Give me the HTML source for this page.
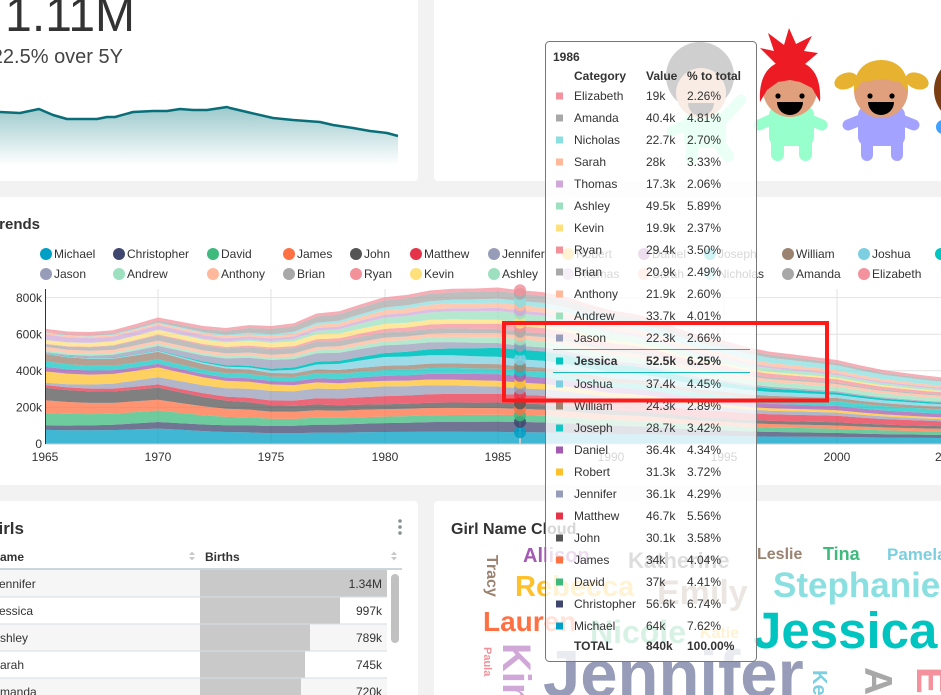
<!DOCTYPE html>
<html><head><meta charset="utf-8">
<style>
html,body{margin:0;padding:0;background:#f2f2f2;width:941px;height:695px;overflow:hidden}
svg{display:block;font-family:"Liberation Sans",Arial,sans-serif;overflow:hidden}
</style></head><body>
<svg id="s" width="941" height="695" viewBox="0 0 941 695" xmlns="http://www.w3.org/2000/svg">
<defs>
<linearGradient id="g1" x1="0" y1="105" x2="0" y2="165" gradientUnits="userSpaceOnUse">
<stop offset="0" stop-color="#0a7a82" stop-opacity=".42"/>
<stop offset="1" stop-color="#0a7a82" stop-opacity="0"/>
</linearGradient>
<clipPath id="cp"><rect x="0" y="0" width="941" height="695"/></clipPath>
</defs>
<g clip-path="url(#cp)">
<rect width="941" height="695" fill="#f2f2f2"/>
<!-- panels -->
<rect x="-10" y="-10" width="428" height="191" rx="4" fill="#fff"/>
<rect x="434" y="-10" width="520" height="191" rx="4" fill="#fff"/>
<rect x="-10" y="197" width="960" height="288" rx="4" fill="#fff"/>
<rect x="-10" y="501" width="428" height="210" rx="4" fill="#fff"/>
<rect x="434" y="501" width="520" height="210" rx="4" fill="#fff"/>

<!-- KPI -->
<text x="135" y="31" text-anchor="end" font-size="48" fill="#333">1.11M</text>
<text x="123" y="63" text-anchor="end" font-size="20" fill="#444">22.5% over 5Y</text>
<path d="M0,112 L20,113 L39,109 L53,115 L67,119 L80,119 L97,119 L107,117 L115,117 L133,112 L153,111 L167,111 L180,109 L193,110 L207,110 L227,107 L230,108 L247,112 L273,118 L293,120 L320,122 L333,125 L353,128 L370,131 L387,133 L398,136 L398,165 L0,165 Z" fill="url(#g1)"/>
<path d="M0,112 L20,113 L39,109 L53,115 L67,119 L80,119 L97,119 L107,117 L115,117 L133,112 L153,111 L167,111 L180,109 L193,110 L207,110 L227,107 L230,108 L247,112 L273,118 L293,120 L320,122 L333,125 L353,128 L370,131 L387,133 L398,136" fill="none" stroke="#0a6e78" stroke-width="2.5" stroke-linejoin="round"/>

<!-- kids -->
<g>
<path d="M720,122 L741,100 M688,124 L672,131" stroke="#96ffcc" stroke-width="11" stroke-linecap="round"/>
<path d="M694,140 L691,158 M716,140 L728,156" stroke="#96ffcc" stroke-width="12" stroke-linecap="round"/>
<rect x="684" y="112" width="42" height="36" rx="9" fill="#96ffcc"/>
<circle cx="700" cy="76" r="34" fill="#111"/>
<circle cx="701" cy="93" r="25" fill="#e0a07e"/>
<path d="M688,103 L714,103 A13,13 0 0 1 688,103Z" fill="#000"/>
</g>
<g>
<path d="M777,117 L759,125 M803,117 L822,125" stroke="#96ffcc" stroke-width="11" stroke-linecap="round"/>
<rect x="771" y="132" width="13" height="29" rx="6.5" fill="#96ffcc"/>
<rect x="799" y="132" width="13" height="29" rx="6.5" fill="#96ffcc"/>
<rect x="769" y="106" width="45" height="40" rx="9" fill="#96ffcc"/>
<circle cx="790" cy="90" r="27" fill="#e0a07e"/>
<path d="M760,102 C758,70 775,60 790,61 C806,60 822,70 820,102 L812,88 L800,82 L790,80 L778,82 L767,90 Z" fill="#ed1c24"/>
<path d="M776,64 L760,48 L774,51 L768,33 L784,45 L789,28 L796,44 L812,36 L804,51 L818,53 L805,64 Z" fill="#ed1c24"/>
<circle cx="778" cy="96" r="2.6" fill="#000"/>
<circle cx="802" cy="96" r="2.6" fill="#000"/>
<path d="M777,102 L803,102 A13,13 0 0 1 777,102 Z" fill="#000"/>
</g>
<g>
<path d="M868,117 L848,125 M894,117 L914,125" stroke="#a3a3ff" stroke-width="11" stroke-linecap="round"/>
<rect x="861" y="132" width="12" height="29" rx="6" fill="#a3a3ff"/>
<rect x="891" y="132" width="12" height="29" rx="6" fill="#a3a3ff"/>
<rect x="858" y="106" width="47" height="40" rx="9" fill="#a3a3ff"/>
<circle cx="881" cy="91" r="27" fill="#e0a07e"/>
<path d="M854,92 C853,68 868,60 881,60 C895,60 909,68 908,92 L900,82 L882,79 L862,82 Z" fill="#e6b22f"/>
<ellipse cx="846" cy="81" rx="12" ry="8" fill="#e6b22f" transform="rotate(-20 846 81)"/>
<ellipse cx="917" cy="81" rx="12" ry="8" fill="#e6b22f" transform="rotate(20 917 81)"/>
<circle cx="870" cy="96" r="2.6" fill="#000"/>
<circle cx="892" cy="96" r="2.6" fill="#000"/>
<path d="M868,102 L894,102 A13,13 0 0 1 868,102 Z" fill="#000"/>
</g>
<circle cx="968" cy="90" r="34" fill="#7a3e12"/>
<circle cx="943" cy="127" r="7" fill="#3fa2ff"/>

<!-- chart title -->
<text x="40" y="229" text-anchor="end" font-size="15" font-weight="bold" fill="#333">Trends</text>

<!-- legend -->
<g font-size="12" fill="#333">
<circle cx="46" cy="254" r="6" fill="#00a0c6"/><text x="54" y="258">Michael</text>
<circle cx="119" cy="254" r="6" fill="#3f476f"/><text x="127" y="258">Christopher</text>
<circle cx="213" cy="254" r="6" fill="#3dba7c"/><text x="221" y="258">David</text>
<circle cx="289" cy="254" r="6" fill="#ff7043"/><text x="297" y="258">James</text>
<circle cx="356" cy="254" r="6" fill="#555555"/><text x="364" y="258">John</text>
<circle cx="416" cy="254" r="6" fill="#e5344a"/><text x="424" y="258">Matthew</text>
<circle cx="494" cy="254" r="6" fill="#979db8"/><text x="502" y="258">Jennifer</text>
<circle cx="568" cy="254" r="6" fill="#ffc12b"/><text x="576" y="258">Robert</text>
<circle cx="644" cy="254" r="6" fill="#a25bb0"/><text x="652" y="258">Daniel</text>
<circle cx="710" cy="254" r="6" fill="#11c7c4"/><text x="718" y="258">Joseph</text>
<circle cx="788" cy="254" r="6" fill="#9c8270"/><text x="796" y="258">William</text>
<circle cx="864" cy="254" r="6" fill="#7ccfe0"/><text x="872" y="258">Joshua</text>
<circle cx="941" cy="254" r="6" fill="#00c4c0"/>
<circle cx="46" cy="274" r="6" fill="#979db8"/><text x="54" y="278">Jason</text>
<circle cx="119" cy="274" r="6" fill="#9de0c0"/><text x="127" y="278">Andrew</text>
<circle cx="213" cy="274" r="6" fill="#ffb899"/><text x="221" y="278">Anthony</text>
<circle cx="289" cy="274" r="6" fill="#a8a8a8"/><text x="297" y="278">Brian</text>
<circle cx="356" cy="274" r="6" fill="#f3919a"/><text x="364" y="278">Ryan</text>
<circle cx="416" cy="274" r="6" fill="#ffe07a"/><text x="424" y="278">Kevin</text>
<circle cx="494" cy="274" r="6" fill="#9de0c0"/><text x="502" y="278">Ashley</text>
<circle cx="568" cy="274" r="6" fill="#d0a8d8"/><text x="576" y="278">Thomas</text>
<circle cx="644" cy="274" r="6" fill="#ffb899"/><text x="652" y="278">Sarah</text>
<circle cx="710" cy="274" r="6" fill="#8adfe0"/><text x="718" y="278">Nicholas</text>
<circle cx="788" cy="274" r="6" fill="#a8a8a8"/><text x="796" y="278">Amanda</text>
<circle cx="864" cy="274" r="6" fill="#f3929c"/><text x="872" y="278">Elizabeth</text>
</g>

<!-- grid -->
<g stroke="#e2e2e2" stroke-width="1">
<line x1="158" y1="289" x2="158" y2="444"/><line x1="271" y1="289" x2="271" y2="444"/>
<line x1="385" y1="289" x2="385" y2="444"/><line x1="498" y1="289" x2="498" y2="444"/>
<line x1="611" y1="289" x2="611" y2="444"/><line x1="724" y1="289" x2="724" y2="444"/>
<line x1="837" y1="289" x2="837" y2="444"/>
<line x1="45" y1="297.6" x2="941" y2="297.6"/><line x1="45" y1="334.2" x2="941" y2="334.2"/>
<line x1="45" y1="370.8" x2="941" y2="370.8"/><line x1="45" y1="407.4" x2="941" y2="407.4"/>
</g>
<g id="areas"></g>
<line x1="45" y1="444" x2="941" y2="444" stroke="#ccc"/>
<line x1="45.5" y1="289" x2="45.5" y2="444" stroke="#333"/>
<line x1="520" y1="289" x2="520" y2="444" stroke="#c8c8c8" stroke-width="2"/>
<g id="dots"></g>
<g font-size="12" fill="#333">
<text x="42" y="302" text-anchor="end">800k</text>
<text x="42" y="338.5" text-anchor="end">600k</text>
<text x="42" y="375" text-anchor="end">400k</text>
<text x="42" y="411.5" text-anchor="end">200k</text>
<text x="42" y="448" text-anchor="end">0</text>
<text x="45" y="461" text-anchor="middle">1965</text>
<text x="158" y="461" text-anchor="middle">1970</text>
<text x="271" y="461" text-anchor="middle">1975</text>
<text x="385" y="461" text-anchor="middle">1980</text>
<text x="498" y="461" text-anchor="middle">1985</text>
<text x="611" y="461" text-anchor="middle">1990</text>
<text x="724" y="461" text-anchor="middle">1995</text>
<text x="837" y="461" text-anchor="middle">2000</text>
<text x="935" y="461">2</text>
</g>

<!-- table -->
<text x="24" y="534" text-anchor="end" font-size="17" font-weight="bold" fill="#333">Girls</text>
<circle cx="400" cy="521" r="1.8" fill="#8a8f94"/><circle cx="400" cy="527" r="1.8" fill="#8a8f94"/><circle cx="400" cy="533" r="1.8" fill="#8a8f94"/>
<text x="24" y="561" text-anchor="end" font-size="12" font-weight="bold" fill="#333">Name</text>
<text x="205" y="561" font-size="12" font-weight="bold" fill="#333">Births</text>
<path d="M189,555 L195,555 L192,551.5Z M189,557 L195,557 L192,560.5Z M391,555 L397,555 L394,551.5Z M391,557 L397,557 L394,560.5Z" fill="#c8c8c8"/>
<rect x="0" y="568" width="402" height="2" fill="#ccd6dd"/>
<rect x="0" y="570" width="387" height="27" fill="#f6f6f6"/>
<rect x="0" y="624" width="387" height="27" fill="#f6f6f6"/>
<rect x="0" y="678" width="387" height="17" fill="#f6f6f6"/>
<g fill="#c9c9c9">
<rect x="200" y="570" width="187" height="27"/>
<rect x="200" y="597" width="140" height="27"/>
<rect x="200" y="624" width="110" height="27"/>
<rect x="200" y="651" width="105" height="27"/>
<rect x="200" y="678" width="101" height="17"/>
</g>
<g fill="#d7dee3">
<rect x="0" y="596.5" width="387" height="1"/>
<rect x="0" y="623.5" width="387" height="1"/>
<rect x="0" y="650.5" width="387" height="1"/>
<rect x="0" y="677.5" width="387" height="1"/>
</g>
<g font-size="12" fill="#333">
<text x="-7" y="588">Jennifer</text><text x="382" y="588" text-anchor="end">1.34M</text>
<text x="-7" y="615">Jessica</text><text x="382" y="615" text-anchor="end">997k</text>
<text x="-8" y="642">Ashley</text><text x="382" y="642" text-anchor="end">789k</text>
<text x="-8" y="669">Sarah</text><text x="382" y="669" text-anchor="end">745k</text>
<text x="-8" y="696">Amanda</text><text x="382" y="696" text-anchor="end">720k</text>
</g>
<rect x="391" y="574" width="8" height="69" rx="4" fill="#c1c1c1"/>

<!-- word cloud -->
<text x="451" y="534" font-size="16" font-weight="bold" fill="#333">Girl Name Cloud</text>
<g font-weight="bold">
<text x="523" y="562" font-size="20" fill="#a25bb0">Allison</text>
<text x="628" y="568" font-size="22" fill="#555">Katherine</text>
<text x="757" y="559" font-size="16" fill="#9c8270">Leslie</text>
<text x="823" y="560" font-size="18" fill="#3dba7c">Tina</text>
<text x="887" y="560" font-size="17" fill="#7ccfe0">Pamela</text>
<text transform="translate(487,555) rotate(90)" font-size="16" fill="#9c8270">Tracy</text>
<text x="515" y="596" font-size="29" fill="#ffc12b">Rebecca</text>
<text x="657" y="604" font-size="34" fill="#9c8270">Emily</text>
<text x="773" y="597" font-size="35" fill="#8adfe0">Stephanie</text>
<text x="483" y="631" font-size="28" fill="#ff7043">Lauren</text>
<text x="590" y="643" font-size="32" fill="#3dba7c">Nicole</text>
<text x="700" y="638" font-size="16" fill="#ffc12b">Katie</text>
<text x="753" y="648" font-size="51" fill="#00c4c0">Jessica</text>
<text transform="translate(484,647) rotate(90)" font-size="11" fill="#f3919a">Paula</text>
<text transform="translate(503,643) rotate(90)" font-size="40" fill="#d0a8d8">Kim</text>
<text x="543" y="697" font-size="67" fill="#979db8">Jennifer</text>
<text transform="translate(813,670) rotate(90)" font-size="20" fill="#7ccfe0">Ke</text>
<text transform="translate(865,667) rotate(90)" font-size="39" fill="#a8a8a8">A</text>
<text transform="translate(917,667) rotate(90)" font-size="40" fill="#f3929c">E</text>
</g>

<!-- tooltip -->
<rect x="545.5" y="41.5" width="211" height="620" rx="4" fill="#fff" fill-opacity="0.8" stroke="#777"/>
<g font-size="12" fill="#333">
<text x="553" y="61" font-weight="bold">1986</text>
<text x="574" y="80" font-weight="bold">Category</text>
<text x="646" y="80" font-weight="bold">Value</text>
<text x="687" y="80" font-weight="bold">% to total</text>
<rect x="556" y="92.5" width="7" height="7" fill="#f3929c"/><text x="574" y="100">Elizabeth</text><text x="646" y="100">19k</text><text x="687" y="100">2.26%</text>
<rect x="556" y="114.5" width="7" height="7" fill="#a8a8a8"/><text x="574" y="122">Amanda</text><text x="646" y="122">40.4k</text><text x="687" y="122">4.81%</text>
<rect x="556" y="136.5" width="7" height="7" fill="#8adfe0"/><text x="574" y="144">Nicholas</text><text x="646" y="144">22.7k</text><text x="687" y="144">2.70%</text>
<rect x="556" y="158.5" width="7" height="7" fill="#ffb899"/><text x="574" y="166">Sarah</text><text x="646" y="166">28k</text><text x="687" y="166">3.33%</text>
<rect x="556" y="180.5" width="7" height="7" fill="#d0a8d8"/><text x="574" y="188">Thomas</text><text x="646" y="188">17.3k</text><text x="687" y="188">2.06%</text>
<rect x="556" y="202.5" width="7" height="7" fill="#9de0c0"/><text x="574" y="210">Ashley</text><text x="646" y="210">49.5k</text><text x="687" y="210">5.89%</text>
<rect x="556" y="224.5" width="7" height="7" fill="#ffe07a"/><text x="574" y="232">Kevin</text><text x="646" y="232">19.9k</text><text x="687" y="232">2.37%</text>
<rect x="556" y="246.5" width="7" height="7" fill="#f3919a"/><text x="574" y="254">Ryan</text><text x="646" y="254">29.4k</text><text x="687" y="254">3.50%</text>
<rect x="556" y="268.5" width="7" height="7" fill="#a8a8a8"/><text x="574" y="276">Brian</text><text x="646" y="276">20.9k</text><text x="687" y="276">2.49%</text>
<rect x="556" y="290.5" width="7" height="7" fill="#ffb899"/><text x="574" y="298">Anthony</text><text x="646" y="298">21.9k</text><text x="687" y="298">2.60%</text>
<rect x="556" y="312.5" width="7" height="7" fill="#9de0c0"/><text x="574" y="320">Andrew</text><text x="646" y="320">33.7k</text><text x="687" y="320">4.01%</text>
<rect x="556" y="334.5" width="7" height="7" fill="#979db8"/><text x="574" y="342">Jason</text><text x="646" y="342">22.3k</text><text x="687" y="342">2.66%</text>
<line x1="553" y1="349.5" x2="750" y2="349.5" stroke="#17b8c0"/>
<rect x="556" y="357.5" width="7" height="7" fill="#00c4c0"/><text x="574" y="365" font-weight="bold">Jessica</text><text x="646" y="365" font-weight="bold">52.5k</text><text x="687" y="365" font-weight="bold">6.25%</text>
<line x1="553" y1="372.5" x2="750" y2="372.5" stroke="#17b8c0"/>
<rect x="556" y="380.5" width="7" height="7" fill="#7ccfe0"/><text x="574" y="388">Joshua</text><text x="646" y="388">37.4k</text><text x="687" y="388">4.45%</text>
<rect x="556" y="402.5" width="7" height="7" fill="#9c8270"/><text x="574" y="410">William</text><text x="646" y="410">24.3k</text><text x="687" y="410">2.89%</text>
<rect x="556" y="424.5" width="7" height="7" fill="#11c7c4"/><text x="574" y="432">Joseph</text><text x="646" y="432">28.7k</text><text x="687" y="432">3.42%</text>
<rect x="556" y="446.5" width="7" height="7" fill="#a25bb0"/><text x="574" y="454">Daniel</text><text x="646" y="454">36.4k</text><text x="687" y="454">4.34%</text>
<rect x="556" y="468.5" width="7" height="7" fill="#ffc12b"/><text x="574" y="476">Robert</text><text x="646" y="476">31.3k</text><text x="687" y="476">3.72%</text>
<rect x="556" y="490.5" width="7" height="7" fill="#979db8"/><text x="574" y="498">Jennifer</text><text x="646" y="498">36.1k</text><text x="687" y="498">4.29%</text>
<rect x="556" y="512.5" width="7" height="7" fill="#e5344a"/><text x="574" y="520">Matthew</text><text x="646" y="520">46.7k</text><text x="687" y="520">5.56%</text>
<rect x="556" y="534.5" width="7" height="7" fill="#555555"/><text x="574" y="542">John</text><text x="646" y="542">30.1k</text><text x="687" y="542">3.58%</text>
<rect x="556" y="556.5" width="7" height="7" fill="#ff7043"/><text x="574" y="564">James</text><text x="646" y="564">34k</text><text x="687" y="564">4.04%</text>
<rect x="556" y="578.5" width="7" height="7" fill="#3dba7c"/><text x="574" y="586">David</text><text x="646" y="586">37k</text><text x="687" y="586">4.41%</text>
<rect x="556" y="600.5" width="7" height="7" fill="#3f476f"/><text x="574" y="608">Christopher</text><text x="646" y="608">56.6k</text><text x="687" y="608">6.74%</text>
<rect x="556" y="622.5" width="7" height="7" fill="#00a0c6"/><text x="574" y="630">Michael</text><text x="646" y="630">64k</text><text x="687" y="630">7.62%</text>
<text x="574" y="650" font-weight="bold">TOTAL</text><text x="646" y="650" font-weight="bold">840k</text><text x="687" y="650" font-weight="bold">100.00%</text>
</g>

<!-- annotation box -->
<rect x="504" y="323" width="323" height="77.5" fill="none" stroke="#ff1a1a" stroke-width="4"/>
</g>
</svg>
<script>
(function(){
var NS="http://www.w3.org/2000/svg";
var C=["#00a0c6","#3f476f","#3dba7c","#ff7043","#555555","#e5344a","#979db8","#ffc12b","#a25bb0","#11c7c4","#9c8270","#7ccfe0","#00c4c0","#979db8","#9de0c0","#ffb899","#a8a8a8","#f3919a","#ffe07a","#9de0c0","#d0a8d8","#ffb899","#8adfe0","#a8a8a8","#f3929c"];
var K=[1965,1970,1975,1980,1986,1990,1995,2000,2005];
var V=[
[77,87,68,68,64,55,45,40,35],
[24,37,45,50,56.6,45,30,22,18],
[68,65,45,37,37,30,25,24,20],
[70,61,45,42,34,28,22,18,15],
[68,68,40,28,30.1,25,20,18,15],
[15,18,30,46,46.7,42,38,36,28],
[13,41,60,55,36.1,30,22,18,12],
[61,55,40,31,31.3,22,15,13,10],
[26,20,22,28,36.4,30,26,24,22],
[30,26,26,33,28.7,28,27,27,24],
[40,42,24,24,24.3,22,20,18,16],
[3,5,15,50,37.4,32,25,18,14],
[2,3,12,22,52.5,45,25,12,8],
[5,25,55,45,22.3,18,12,8,6],
[10,12,15,22,33.7,32,28,24,20],
[18,18,18,20,21.9,20,18,16,14],
[15,30,35,30,20.9,16,12,9,7],
[2,5,10,20,29.4,28,22,18,14],
[20,25,30,28,19.9,15,11,9,7],
[1,2,10,35,49.5,40,25,15,10],
[30,25,17,17,17.3,15,12,10,8],
[8,10,15,25,28,26,22,16,12],
[3,5,10,16,22.7,28,30,28,24],
[2,10,35,40,40.4,35,22,14,10],
[18,18,18,18,19,18,17,16,14]];
var T=[630,615,612,622,655,691,668,645,634,650,645,660,713,725,765,802,815,839,848,850,855,840,830,805,765,730,712,680,630,590,565,530,505,490,475,459,430,405,388,372,360];
function X(y){return 45+(y-1965)*22.63;}
function Y(v){return 444-v*0.183;}
var cum=[],t,i;
for(t=0;t<41;t++){var yr=1965+t,k=0;while(k<K.length-2&&yr>K[k+1])k++;var f=(yr-K[k])/(K[k+1]-K[k]);var row=[],s=0;for(i=0;i<25;i++){var v=V[i][k]+(V[i][k+1]-V[i][k])*f;row.push(v);s+=v;}var sc=T[t]/s,c=0,cr=[];for(i=0;i<25;i++){c+=row[i]*sc;cr.push(c);}cum.push(cr);}
var ga=document.getElementById("areas");
for(i=0;i<25;i++){var d="";for(t=0;t<41;t++){d+=(t?"L":"M")+X(1965+t).toFixed(1)+","+Y(cum[t][i]).toFixed(1);}for(t=40;t>=0;t--){d+="L"+X(1965+t).toFixed(1)+","+Y(i?cum[t][i-1]:0).toFixed(1);}d+="Z";var p=document.createElementNS(NS,"path");p.setAttribute("d",d);p.setAttribute("fill",C[i]);p.setAttribute("fill-opacity",i==12?"0.92":"0.75");ga.appendChild(p);}
var gd=document.getElementById("dots");
for(i=0;i<25;i++){var ci=document.createElementNS(NS,"circle");ci.setAttribute("cx","520");ci.setAttribute("cy",Y(cum[21][i]).toFixed(1));ci.setAttribute("r","6");ci.setAttribute("fill",C[i]);ci.setAttribute("fill-opacity","0.85");gd.appendChild(ci);}
})();
</script>
</body></html>
